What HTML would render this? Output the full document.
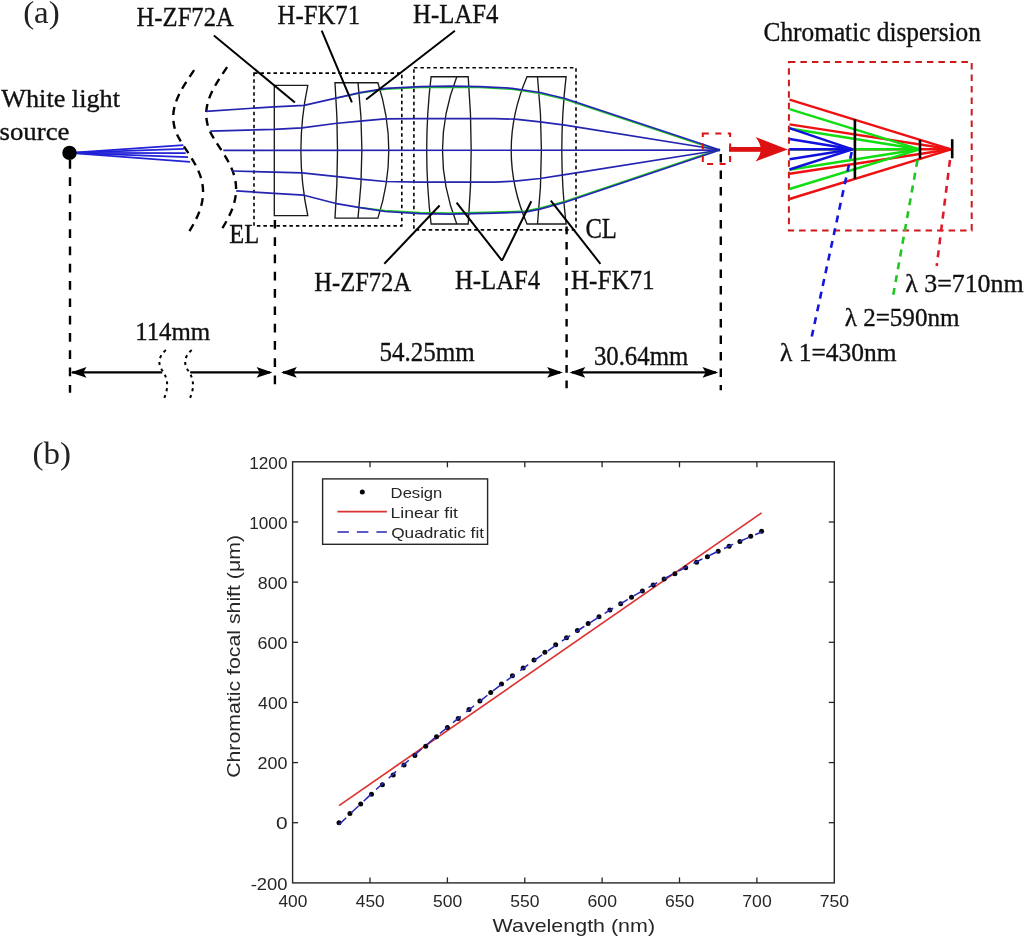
<!DOCTYPE html>
<html><head><meta charset="utf-8"><style>
html,body{margin:0;padding:0;background:#fff;}
svg{display:block;will-change:transform;}
</style></head><body>
<svg width="1025" height="936" viewBox="0 0 1025 936">
<rect width="1025" height="936" fill="#fff"/>
<text x="23.15" y="22.6" font-size="32" font-family='"Liberation Serif", serif' fill="#222" textLength="36.60" lengthAdjust="spacingAndGlyphs" >(a)</text>
<text x="1.27" y="107.3" font-size="26" font-family='"Liberation Serif", serif' fill="#111" stroke="#111" stroke-width="0.35" textLength="118.68" lengthAdjust="spacingAndGlyphs" >White light</text>
<text x="-0.50" y="139.6" font-size="26" font-family='"Liberation Serif", serif' fill="#111" stroke="#111" stroke-width="0.35" textLength="69.93" lengthAdjust="spacingAndGlyphs" >source</text>
<line x1="69.5" y1="152.9" x2="183.3" y2="145.1" stroke="#2222d8" stroke-width="1.7" />
<line x1="69.5" y1="152.9" x2="183.9" y2="148.8" stroke="#2222d8" stroke-width="1.7" />
<line x1="69.5" y1="152.9" x2="185.7" y2="153.1" stroke="#2222d8" stroke-width="1.7" />
<line x1="69.5" y1="152.9" x2="188" y2="157.2" stroke="#2222d8" stroke-width="1.7" />
<line x1="69.5" y1="152.9" x2="190.1" y2="161.9" stroke="#2222d8" stroke-width="1.7" />
<circle cx="69.5" cy="152.9" r="7.2" fill="#000"/>
<path d="M194.1,70.2 C182,88 170,105 174,125 C177,145 205,165 203,195 C202,210 195,222 187.4,234.5" fill="none" stroke="#000" stroke-width="2.4" stroke-dasharray="8,6"/>
<path d="M227.1,67.2 C215,85 203,102 207,122 C210,142 238,162 236,192 C235,207 228,219 220.4,231.5" fill="none" stroke="#000" stroke-width="2.4" stroke-dasharray="8,6"/>
<rect x="254" y="73.1" width="147.8" height="152.8" fill="none" stroke="#000" stroke-width="1.6" stroke-dasharray="3.5,3"/>
<rect x="413.9" y="67.8" width="162.1" height="162.1" fill="none" stroke="#000" stroke-width="1.6" stroke-dasharray="3.5,3"/>
<path d="M274.3,85.3 L307.8,85.3 Q294,150.5 307.8,215.6 L274.3,215.6 Z" fill="none" stroke="#1a1a1a" stroke-width="1.35"/>
<path d="M335,82.7 L377.9,82.7 Q399.7,150.4 377.9,218.1 L335,218.1 Q340,150.4 335,82.7 Z" fill="none" stroke="#1a1a1a" stroke-width="1.35"/>
<path d="M358,82.7 Q365.8,150.4 358,218.1" fill="none" stroke="#1a1a1a" stroke-width="1.35"/>
<path d="M431.1,76.7 L468.2,76.7 Q474.2,150.4 468.2,224 L431.1,224 Q422.3,150.4 431.1,76.7 Z" fill="none" stroke="#1a1a1a" stroke-width="1.35"/>
<path d="M456.8,76.7 Q428.2,150.4 456.8,224" fill="none" stroke="#1a1a1a" stroke-width="1.35"/>
<path d="M527,76.7 L566.1,76.7 Q557.5,150.4 566.1,224 L527,224 Q495.4,150.4 527,76.7 Z" fill="none" stroke="#1a1a1a" stroke-width="1.35"/>
<path d="M537.5,76.7 Q545.3,150.4 537.5,224" fill="none" stroke="#1a1a1a" stroke-width="1.35"/>
<polyline points="336.0,98.2 360.0,93.1 386.0,89.3 420.0,87.7 450.0,87.3 480.0,87.7 512.0,89.4 540.0,93.6 565.0,99.6 720.0,151.1" fill="none" stroke="#22cc22" stroke-width="1.3" stroke-linejoin="round" />
<polyline points="360.0,207.3 385.0,210.5 420.0,212.5 450.0,213.0 495.0,212.0 525.0,211.0 540.0,208.0 565.0,201.1 720.0,148.9" fill="none" stroke="#22cc22" stroke-width="1.3" stroke-linejoin="round" />
<polyline points="206.0,111.4 274.0,106.8 304.0,105.3 336.0,98.2 360.0,92.7 386.0,88.3 420.0,86.6 450.0,86.2 480.0,86.6 512.0,88.3 540.0,92.5 565.0,98.5 720.0,150.0" fill="none" stroke="#2424b0" stroke-width="1.7" stroke-linejoin="round" />
<polyline points="210.3,131.1 274.0,129.3 302.0,127.8 335.0,123.5 360.0,121.2 385.0,118.9 420.0,118.6 495.0,118.6 515.0,119.2 540.0,121.8 565.0,125.2 720.0,150.0" fill="none" stroke="#2424b0" stroke-width="1.7" stroke-linejoin="round" />
<polyline points="223.3,150.3 720.0,150.2" fill="none" stroke="#2424b0" stroke-width="1.7" stroke-linejoin="round" />
<polyline points="232.0,171.0 274.0,172.2 302.0,172.9 335.0,176.3 360.0,179.2 385.0,181.5 420.0,182.1 495.0,182.1 515.0,181.1 540.0,178.5 565.0,174.6 720.0,150.0" fill="none" stroke="#2424b0" stroke-width="1.7" stroke-linejoin="round" />
<polyline points="236.1,190.9 274.0,193.4 304.0,195.2 335.0,203.3 360.0,207.7 385.0,211.5 420.0,213.6 450.0,214.1 495.0,213.1 525.0,212.1 540.0,209.1 565.0,202.2 720.0,150.0" fill="none" stroke="#2424b0" stroke-width="1.7" stroke-linejoin="round" />
<line x1="213.9" y1="35.5" x2="294.9" y2="102.4" stroke="#000" stroke-width="2.0" />
<line x1="321.7" y1="30.7" x2="351.9" y2="102.4" stroke="#000" stroke-width="2.0" />
<line x1="454.9" y1="30.7" x2="366.1" y2="99.5" stroke="#000" stroke-width="2.0" />
<line x1="384.3" y1="263.8" x2="439.6" y2="205.5" stroke="#000" stroke-width="2.0" />
<line x1="456.6" y1="202.7" x2="502" y2="260.6" stroke="#000" stroke-width="2.0" />
<line x1="502" y1="260.6" x2="531.3" y2="201.3" stroke="#000" stroke-width="2.0" />
<line x1="550.8" y1="200.7" x2="600.4" y2="263.8" stroke="#000" stroke-width="2.0" />
<text x="136.59" y="26.3" font-size="27.3" font-family='"Liberation Serif", serif' fill="#111" stroke="#111" stroke-width="0.35" textLength="97.19" lengthAdjust="spacingAndGlyphs" >H-ZF72A</text>
<text x="277.59" y="23.5" font-size="26.5" font-family='"Liberation Serif", serif' fill="#111" stroke="#111" stroke-width="0.35" textLength="82.50" lengthAdjust="spacingAndGlyphs" >H-FK71</text>
<text x="413.09" y="23.1" font-size="27" font-family='"Liberation Serif", serif' fill="#111" stroke="#111" stroke-width="0.35" textLength="85.40" lengthAdjust="spacingAndGlyphs" >H-LAF4</text>
<text x="314.19" y="290.6" font-size="27.3" font-family='"Liberation Serif", serif' fill="#111" stroke="#111" stroke-width="0.35" textLength="96.99" lengthAdjust="spacingAndGlyphs" >H-ZF72A</text>
<text x="454.89" y="289.1" font-size="27.3" font-family='"Liberation Serif", serif' fill="#111" stroke="#111" stroke-width="0.35" textLength="85.40" lengthAdjust="spacingAndGlyphs" >H-LAF4</text>
<text x="570.98" y="289.3" font-size="27.5" font-family='"Liberation Serif", serif' fill="#111" stroke="#111" stroke-width="0.35" textLength="83.63" lengthAdjust="spacingAndGlyphs" >H-FK71</text>
<text x="229.19" y="242.5" font-size="28.2" font-family='"Liberation Serif", serif' fill="#111" stroke="#111" stroke-width="0.35" textLength="29.98" lengthAdjust="spacingAndGlyphs" >EL</text>
<text x="585.39" y="237.8" font-size="29" font-family='"Liberation Serif", serif' fill="#111" stroke="#111" stroke-width="0.35" textLength="31.49" lengthAdjust="spacingAndGlyphs" >CL</text>
<text x="763.56" y="40.5" font-size="26.4" font-family='"Liberation Serif", serif' fill="#111" stroke="#111" stroke-width="0.35" textLength="217.32" lengthAdjust="spacingAndGlyphs" >Chromatic dispersion</text>
<line x1="70" y1="160" x2="70" y2="392.7" stroke="#000" stroke-width="2.4" stroke-dasharray="8.7,8.6"/>
<line x1="274.9" y1="219.9" x2="274.9" y2="390" stroke="#000" stroke-width="2.4" stroke-dasharray="8.7,8.6"/>
<line x1="566.6" y1="226.5" x2="566.6" y2="392.2" stroke="#000" stroke-width="2.4" stroke-dasharray="7.7,7.7"/>
<line x1="720.8" y1="154" x2="720.8" y2="390.2" stroke="#000" stroke-width="2.4" stroke-dasharray="8.5,8"/>
<line x1="72" y1="372.4" x2="162.2" y2="372.4" stroke="#000" stroke-width="2.1" />
<line x1="190.2" y1="372.4" x2="270" y2="372.4" stroke="#000" stroke-width="2.1" />
<path d="M70.7,372.4 L86.5,367.0 L83.3,372.4 L86.5,377.79999999999995 Z" fill="#000"/>
<path d="M272.4,372.4 L256.59999999999997,367.0 L259.79999999999995,372.4 L256.59999999999997,377.79999999999995 Z" fill="#000"/>
<line x1="283" y1="372.4" x2="560" y2="372.4" stroke="#000" stroke-width="2.1" />
<path d="M281,372.4 L296.8,367.0 L293.6,372.4 L296.8,377.79999999999995 Z" fill="#000"/>
<path d="M562.9,372.4 L547.1,367.0 L550.3000000000001,372.4 L547.1,377.79999999999995 Z" fill="#000"/>
<line x1="572" y1="372.4" x2="716" y2="372.4" stroke="#000" stroke-width="2.1" />
<path d="M569.5,372.4 L585.3,367.0 L582.0999999999999,372.4 L585.3,377.79999999999995 Z" fill="#000"/>
<path d="M718.3,372.4 L702.5,367.0 L705.7,372.4 L702.5,377.79999999999995 Z" fill="#000"/>
<path d="M165.9,350 C158,357 158,364 162,370 C167,377 170,386 163.4,400" fill="none" stroke="#000" stroke-width="2" stroke-dasharray="3,4"/>
<path d="M191.70000000000002,350 C183.8,357 183.8,364 187.8,370 C192.8,377 195.8,386 189.20000000000002,400" fill="none" stroke="#000" stroke-width="2" stroke-dasharray="3,4"/>
<text x="135.14" y="339.8" font-size="25.2" font-family='"Liberation Serif", serif' fill="#111" stroke="#111" stroke-width="0.35" textLength="75.04" lengthAdjust="spacingAndGlyphs" >114mm</text>
<text x="379.55" y="361.3" font-size="27" font-family='"Liberation Serif", serif' fill="#111" stroke="#111" stroke-width="0.35" textLength="95.25" lengthAdjust="spacingAndGlyphs" >54.25mm</text>
<text x="593.91" y="364.6" font-size="26.8" font-family='"Liberation Serif", serif' fill="#111" stroke="#111" stroke-width="0.35" textLength="94.27" lengthAdjust="spacingAndGlyphs" >30.64mm</text>
<rect x="702.8" y="133.4" width="27.3" height="30.7" fill="none" stroke="#dd1111" stroke-width="2" stroke-dasharray="6,6.5"/>
<rect x="729" y="147" width="32" height="4.8" fill="#dd1111"/>
<path d="M787.7,149.5 L755.5,136.9 Q766,149.5 755.5,161.5 Z" fill="#dd1111"/>
<rect x="788.9" y="61.9" width="182.8" height="168.6" fill="none" stroke="#cc1a1a" stroke-width="2" stroke-dasharray="6.5,5"/>
<line x1="789.5" y1="99.6" x2="951" y2="149.3" stroke="#ee1111" stroke-width="2.4" />
<line x1="789.5" y1="124.4" x2="951" y2="149.3" stroke="#ee1111" stroke-width="2.4" />
<line x1="789.5" y1="149.3" x2="951" y2="149.3" stroke="#ee1111" stroke-width="2.4" />
<line x1="789.5" y1="173.8" x2="951" y2="149.3" stroke="#ee1111" stroke-width="2.4" />
<line x1="789.5" y1="199" x2="951" y2="149.3" stroke="#ee1111" stroke-width="2.4" />
<line x1="789.5" y1="109.2" x2="919.5" y2="149.3" stroke="#11dd11" stroke-width="2.4" />
<line x1="789.5" y1="128.5" x2="919.5" y2="149.3" stroke="#11dd11" stroke-width="2.4" />
<line x1="789.5" y1="149.3" x2="919.5" y2="149.3" stroke="#11dd11" stroke-width="2.4" />
<line x1="789.5" y1="169.8" x2="919.5" y2="149.3" stroke="#11dd11" stroke-width="2.4" />
<line x1="789.5" y1="189" x2="919.5" y2="149.3" stroke="#11dd11" stroke-width="2.4" />
<line x1="789.5" y1="128.2" x2="852.5" y2="149.3" stroke="#1111dd" stroke-width="2.4" />
<line x1="789.5" y1="139" x2="852.5" y2="149.3" stroke="#1111dd" stroke-width="2.4" />
<line x1="789.5" y1="149.3" x2="852.5" y2="149.3" stroke="#1111dd" stroke-width="2.4" />
<line x1="789.5" y1="159.2" x2="852.5" y2="149.3" stroke="#1111dd" stroke-width="2.4" />
<line x1="789.5" y1="169.5" x2="852.5" y2="149.3" stroke="#1111dd" stroke-width="2.4" />
<line x1="854.9" y1="119.2" x2="854.9" y2="179.1" stroke="#000" stroke-width="2.6" />
<line x1="920" y1="139.9" x2="920" y2="158.6" stroke="#000" stroke-width="2.6" />
<line x1="952.2" y1="139.2" x2="952.2" y2="158.3" stroke="#000" stroke-width="2.6" />
<line x1="851.7" y1="152" x2="811.8" y2="336.4" stroke="#1515e0" stroke-width="2.6" stroke-dasharray="7,6"/>
<line x1="917.5" y1="160" x2="892.6" y2="298.6" stroke="#22c422" stroke-width="2.6" stroke-dasharray="7,6"/>
<line x1="950" y1="160" x2="936.7" y2="266" stroke="#e01a2a" stroke-width="2.6" stroke-dasharray="7,6"/>
<text x="905.22" y="292.4" font-size="26" font-family='"Liberation Serif", serif' fill="#111" stroke="#111" stroke-width="0.35" textLength="118.39" lengthAdjust="spacingAndGlyphs" >λ 3=710nm</text>
<text x="844.74" y="325.5" font-size="26" font-family='"Liberation Serif", serif' fill="#111" stroke="#111" stroke-width="0.35" textLength="114.75" lengthAdjust="spacingAndGlyphs" >λ 2=590nm</text>
<text x="780.03" y="361" font-size="26" font-family='"Liberation Serif", serif' fill="#111" stroke="#111" stroke-width="0.35" textLength="116.47" lengthAdjust="spacingAndGlyphs" >λ 1=430nm</text>
<text x="32.55" y="463.9" font-size="32" font-family='"Liberation Serif", serif' fill="#222" textLength="38.39" lengthAdjust="spacingAndGlyphs" >(b)</text>
<line x1="339.0" y1="805.6" x2="761.6" y2="512.9" stroke="#dc3232" stroke-width="1.7"/>
<circle cx="339.0" cy="822.7" r="2.5" fill="#050510"/>
<circle cx="349.9" cy="813.5" r="2.5" fill="#050510"/>
<circle cx="360.7" cy="804.1" r="2.5" fill="#050510"/>
<circle cx="371.5" cy="794.3" r="2.5" fill="#050510"/>
<circle cx="382.4" cy="784.7" r="2.5" fill="#050510"/>
<circle cx="393.2" cy="775.0" r="2.5" fill="#050510"/>
<circle cx="404.0" cy="765.0" r="2.5" fill="#050510"/>
<circle cx="414.9" cy="755.4" r="2.5" fill="#050510"/>
<circle cx="425.7" cy="746.2" r="2.5" fill="#050510"/>
<circle cx="436.5" cy="736.7" r="2.5" fill="#050510"/>
<circle cx="447.4" cy="727.5" r="2.5" fill="#050510"/>
<circle cx="458.2" cy="718.6" r="2.5" fill="#050510"/>
<circle cx="469.0" cy="709.6" r="2.5" fill="#050510"/>
<circle cx="479.9" cy="701.0" r="2.5" fill="#050510"/>
<circle cx="490.7" cy="692.5" r="2.5" fill="#050510"/>
<circle cx="501.5" cy="684.1" r="2.5" fill="#050510"/>
<circle cx="512.4" cy="675.8" r="2.5" fill="#050510"/>
<circle cx="523.2" cy="667.9" r="2.5" fill="#050510"/>
<circle cx="534.0" cy="660.0" r="2.5" fill="#050510"/>
<circle cx="544.9" cy="652.3" r="2.5" fill="#050510"/>
<circle cx="555.7" cy="644.7" r="2.5" fill="#050510"/>
<circle cx="566.5" cy="637.8" r="2.5" fill="#050510"/>
<circle cx="577.4" cy="630.5" r="2.5" fill="#050510"/>
<circle cx="588.2" cy="623.6" r="2.5" fill="#050510"/>
<circle cx="599.0" cy="616.8" r="2.5" fill="#050510"/>
<circle cx="609.9" cy="610.0" r="2.5" fill="#050510"/>
<circle cx="620.7" cy="603.8" r="2.5" fill="#050510"/>
<circle cx="631.5" cy="597.2" r="2.5" fill="#050510"/>
<circle cx="642.4" cy="591.1" r="2.5" fill="#050510"/>
<circle cx="653.2" cy="585.1" r="2.5" fill="#050510"/>
<circle cx="664.1" cy="579.1" r="2.5" fill="#050510"/>
<circle cx="674.9" cy="573.7" r="2.5" fill="#050510"/>
<circle cx="685.7" cy="567.7" r="2.5" fill="#050510"/>
<circle cx="696.6" cy="562.3" r="2.5" fill="#050510"/>
<circle cx="707.4" cy="556.7" r="2.5" fill="#050510"/>
<circle cx="718.2" cy="551.3" r="2.5" fill="#050510"/>
<circle cx="729.1" cy="546.3" r="2.5" fill="#050510"/>
<circle cx="739.9" cy="541.4" r="2.5" fill="#050510"/>
<circle cx="750.7" cy="536.2" r="2.5" fill="#050510"/>
<circle cx="761.6" cy="531.3" r="2.5" fill="#050510"/>
<polyline points="339.0,824.6 346.2,817.7 353.4,810.8 360.5,804.1 367.7,797.4 374.8,790.7 382.0,784.2 389.2,777.7 396.3,771.2 403.5,764.9 410.6,758.6 417.8,752.3 425.0,746.2 432.1,740.1 439.3,734.0 446.5,728.1 453.6,722.2 460.8,716.4 467.9,710.6 475.1,704.9 482.3,699.3 489.4,693.7 496.6,688.2 503.7,682.8 510.9,677.4 518.1,672.1 525.2,666.9 532.4,661.7 539.6,656.6 546.7,651.6 553.9,646.7 561.0,641.8 568.2,636.9 575.4,632.2 582.5,627.5 589.7,622.9 596.8,618.3 604.0,613.8 611.2,609.4 618.3,605.0 625.5,600.8 632.7,596.5 639.8,592.4 647.0,588.3 654.1,584.3 661.3,580.3 668.5,576.4 675.6,572.6 682.8,568.8 689.9,565.2 697.1,561.5 704.3,558.0 711.4,554.5 718.6,551.1 725.8,547.7 732.9,544.4 740.1,541.2 747.2,538.1 754.4,535.0 761.6,532.0" fill="none" stroke="#2626b0" stroke-width="1.5" stroke-dasharray="10,7"/>
<rect x="292.6" y="461.8" width="541.7" height="421.1" fill="none" stroke="#262626" stroke-width="1.4"/>
<text x="278.50" y="906.6" font-size="16.5" font-family='"Liberation Sans", sans-serif' fill="#262626" textLength="28.87" lengthAdjust="spacingAndGlyphs" >400</text>
<line x1="370.0" y1="882.9" x2="370.0" y2="877.4" stroke="#262626" stroke-width="1.3" />
<line x1="370.0" y1="461.8" x2="370.0" y2="467.3" stroke="#262626" stroke-width="1.3" />
<text x="355.89" y="906.6" font-size="16.5" font-family='"Liberation Sans", sans-serif' fill="#262626" textLength="28.87" lengthAdjust="spacingAndGlyphs" >450</text>
<line x1="447.4" y1="882.9" x2="447.4" y2="877.4" stroke="#262626" stroke-width="1.3" />
<line x1="447.4" y1="461.8" x2="447.4" y2="467.3" stroke="#262626" stroke-width="1.3" />
<text x="432.97" y="906.6" font-size="16.5" font-family='"Liberation Sans", sans-serif' fill="#262626" textLength="29.18" lengthAdjust="spacingAndGlyphs" >500</text>
<line x1="524.8" y1="882.9" x2="524.8" y2="877.4" stroke="#262626" stroke-width="1.3" />
<line x1="524.8" y1="461.8" x2="524.8" y2="467.3" stroke="#262626" stroke-width="1.3" />
<text x="510.36" y="906.6" font-size="16.5" font-family='"Liberation Sans", sans-serif' fill="#262626" textLength="29.18" lengthAdjust="spacingAndGlyphs" >550</text>
<line x1="602.1" y1="882.9" x2="602.1" y2="877.4" stroke="#262626" stroke-width="1.3" />
<line x1="602.1" y1="461.8" x2="602.1" y2="467.3" stroke="#262626" stroke-width="1.3" />
<text x="587.55" y="906.6" font-size="16.5" font-family='"Liberation Sans", sans-serif' fill="#262626" textLength="29.38" lengthAdjust="spacingAndGlyphs" >600</text>
<line x1="679.5" y1="882.9" x2="679.5" y2="877.4" stroke="#262626" stroke-width="1.3" />
<line x1="679.5" y1="461.8" x2="679.5" y2="467.3" stroke="#262626" stroke-width="1.3" />
<text x="664.93" y="906.6" font-size="16.5" font-family='"Liberation Sans", sans-serif' fill="#262626" textLength="29.38" lengthAdjust="spacingAndGlyphs" >650</text>
<line x1="756.9" y1="882.9" x2="756.9" y2="877.4" stroke="#262626" stroke-width="1.3" />
<line x1="756.9" y1="461.8" x2="756.9" y2="467.3" stroke="#262626" stroke-width="1.3" />
<text x="742.31" y="906.6" font-size="16.5" font-family='"Liberation Sans", sans-serif' fill="#262626" textLength="29.39" lengthAdjust="spacingAndGlyphs" >700</text>
<text x="819.70" y="906.6" font-size="16.5" font-family='"Liberation Sans", sans-serif' fill="#262626" textLength="29.39" lengthAdjust="spacingAndGlyphs" >750</text>
<text x="250.68" y="889.6" font-size="16.2" font-family='"Liberation Sans", sans-serif' fill="#262626" textLength="36.84" lengthAdjust="spacingAndGlyphs" >-200</text>
<line x1="292.6" y1="822.7" x2="298.1" y2="822.7" stroke="#262626" stroke-width="1.3" />
<line x1="834.3" y1="822.7" x2="828.8" y2="822.7" stroke="#262626" stroke-width="1.3" />
<text x="275.98" y="829.4" font-size="16.2" font-family='"Liberation Sans", sans-serif' fill="#262626" textLength="11.63" lengthAdjust="spacingAndGlyphs" >0</text>
<line x1="292.6" y1="762.6" x2="298.1" y2="762.6" stroke="#262626" stroke-width="1.3" />
<line x1="834.3" y1="762.6" x2="828.8" y2="762.6" stroke="#262626" stroke-width="1.3" />
<text x="257.60" y="769.3" font-size="16.2" font-family='"Liberation Sans", sans-serif' fill="#262626" textLength="29.90" lengthAdjust="spacingAndGlyphs" >200</text>
<line x1="292.6" y1="702.4" x2="298.1" y2="702.4" stroke="#262626" stroke-width="1.3" />
<line x1="834.3" y1="702.4" x2="828.8" y2="702.4" stroke="#262626" stroke-width="1.3" />
<text x="258.10" y="709.1" font-size="16.2" font-family='"Liberation Sans", sans-serif' fill="#262626" textLength="29.39" lengthAdjust="spacingAndGlyphs" >400</text>
<line x1="292.6" y1="642.3" x2="298.1" y2="642.3" stroke="#262626" stroke-width="1.3" />
<line x1="834.3" y1="642.3" x2="828.8" y2="642.3" stroke="#262626" stroke-width="1.3" />
<text x="257.59" y="649.0" font-size="16.2" font-family='"Liberation Sans", sans-serif' fill="#262626" textLength="29.91" lengthAdjust="spacingAndGlyphs" >600</text>
<line x1="292.6" y1="582.1" x2="298.1" y2="582.1" stroke="#262626" stroke-width="1.3" />
<line x1="834.3" y1="582.1" x2="828.8" y2="582.1" stroke="#262626" stroke-width="1.3" />
<text x="257.72" y="588.8" font-size="16.2" font-family='"Liberation Sans", sans-serif' fill="#262626" textLength="29.77" lengthAdjust="spacingAndGlyphs" >800</text>
<line x1="292.6" y1="522.0" x2="298.1" y2="522.0" stroke="#262626" stroke-width="1.3" />
<line x1="834.3" y1="522.0" x2="828.8" y2="522.0" stroke="#262626" stroke-width="1.3" />
<text x="249.29" y="528.7" font-size="16.2" font-family='"Liberation Sans", sans-serif' fill="#262626" textLength="38.18" lengthAdjust="spacingAndGlyphs" >1000</text>
<text x="249.29" y="468.5" font-size="16.2" font-family='"Liberation Sans", sans-serif' fill="#262626" textLength="38.18" lengthAdjust="spacingAndGlyphs" >1200</text>
<text x="492.61" y="931.6" font-size="19" font-family='"Liberation Sans", sans-serif' fill="#262626" textLength="162.42" lengthAdjust="spacingAndGlyphs" >Wavelength (nm)</text>
<g transform="translate(239.7,0) rotate(-90)">
<text x="-777.88" y="0" font-size="19" font-family='"Liberation Sans", sans-serif' fill="#262626" textLength="242.90" lengthAdjust="spacingAndGlyphs" >Chromatic focal shift (μm)</text>
</g>
<rect x="322.6" y="478.9" width="165" height="65.4" fill="#fff" stroke="#262626" stroke-width="1.4"/>
<circle cx="362.3" cy="491.9" r="2.5" fill="#050510"/>
<line x1="337.4" y1="511.7" x2="386.9" y2="511.7" stroke="#dc3232" stroke-width="1.7" />
<line x1="337.4" y1="532.1" x2="386.9" y2="532.1" stroke="#2626b0" stroke-width="1.5" stroke-dasharray="11.5,8"/>
<text x="390.64" y="497.6" font-size="14.4" font-family='"Liberation Sans", sans-serif' fill="#262626" textLength="51.74" lengthAdjust="spacingAndGlyphs" >Design</text>
<text x="390.56" y="517.7" font-size="14.4" font-family='"Liberation Sans", sans-serif' fill="#262626" textLength="67.47" lengthAdjust="spacingAndGlyphs" >Linear fit</text>
<text x="391.18" y="537.9" font-size="14.4" font-family='"Liberation Sans", sans-serif' fill="#262626" textLength="92.84" lengthAdjust="spacingAndGlyphs" >Quadratic fit</text>
</svg>
</body></html>
